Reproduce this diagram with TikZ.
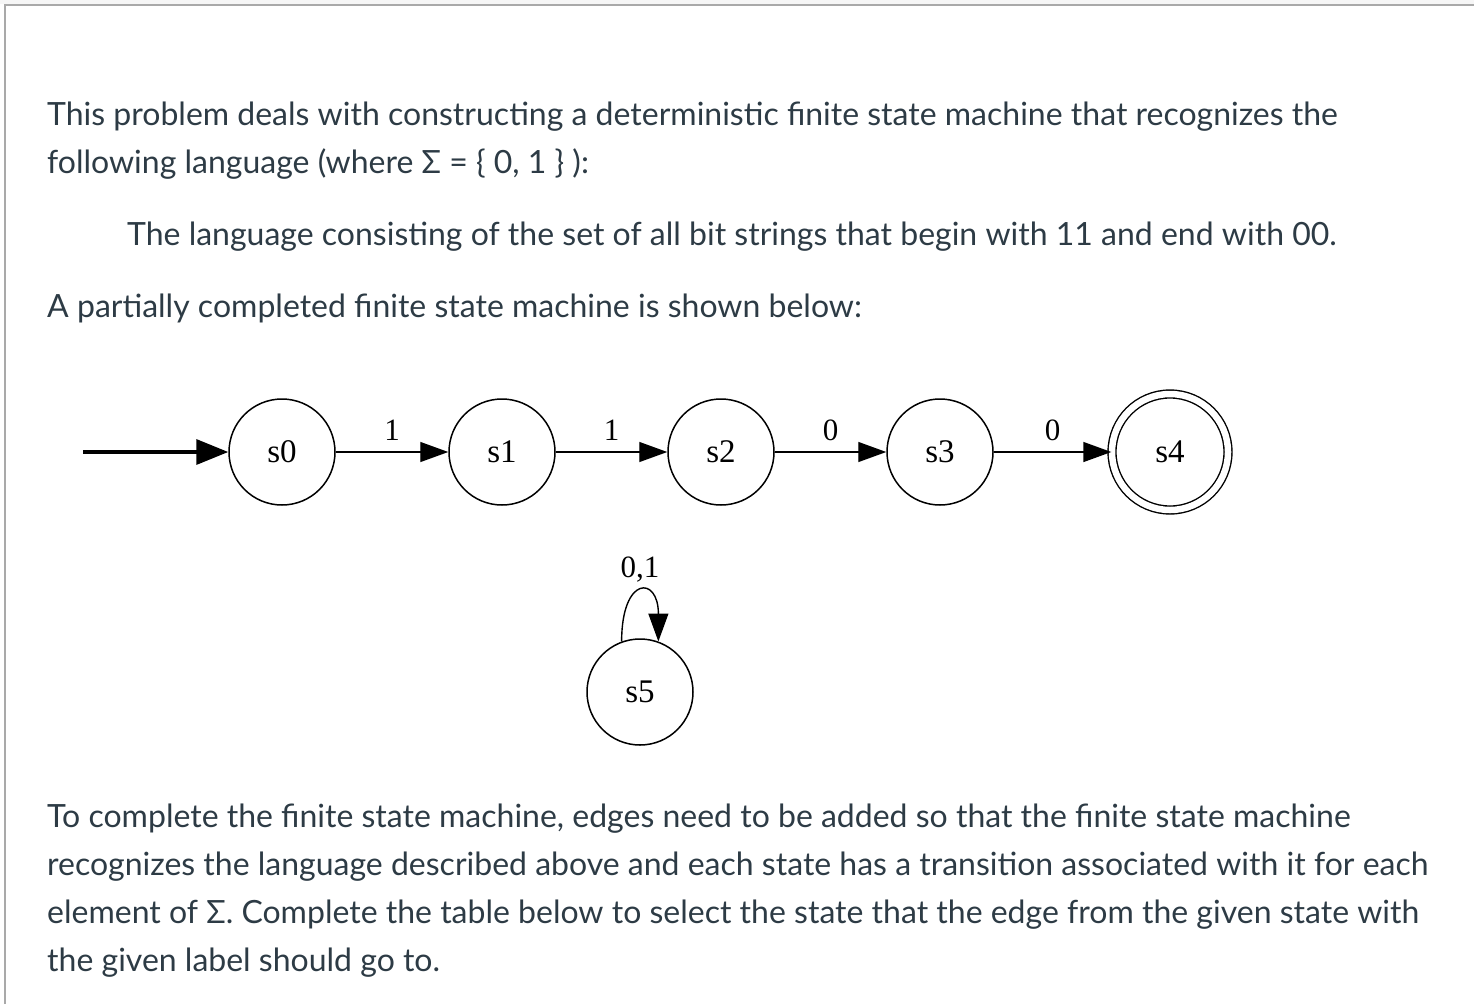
\documentclass[tikz,border=0pt]{standalone}
\usepackage{fontspec}
\setmainfont{Lato}
\newfontfamily\graphfont{Liberation Serif}
\usetikzlibrary{arrows.meta}
\definecolor{canvastext}{HTML}{2D3B45}
\definecolor{bordergray}{HTML}{A9A9A9}
\begin{document}
\begin{tikzpicture}[x=1pt,y=-1pt,
  para/.style={anchor=base west, inner sep=0pt, text=canvastext, font=\fontsize{32}{48}\selectfont},
  state/.style={circle, draw=black, line width=1.5pt, minimum size=106pt, inner sep=0pt, font=\graphfont\fontsize{33}{33}\selectfont},
  accept/.style={state, double=white, double distance=6.5pt, line width=1.4pt, minimum size=116pt},
  edge/.style={line width=1.4pt, -{Triangle[length=28pt,width=20pt]}},
  elabel/.style={font=\graphfont\fontsize{31}{31}\selectfont, inner sep=0pt}
]
\useasboundingbox (0,0) rectangle (1474,1004);
\fill[gray!7] (0,0) rectangle (1474,4);
\draw[bordergray, line width=2pt] (5,1004) -- (5,5) -- (1474,5);

\node[para] (l1) at (47,125) {This problem deals with constructing a deterministic finite state machine that recognizes the};
\node[para] (l2) at (47,173) {following language (where Σ = \{ 0, 1 \} ):};
\node[para] (l3) at (127,245) {The language consisting of the set of all bit strings that begin with 11 and end with 00.};
\node[para] (l4) at (47,317) {A partially completed finite state machine is shown below:};
\node[para] (l5) at (47,827) {To complete the finite state machine, edges need to be added so that the finite state machine};
\node[para] (l6) at (47,875) {recognizes the language described above and each state has a transition associated with it for each};
\node[para] (l7) at (47,923) {element of Σ. Complete the table below to select the state that the edge from the given state with};
\node[para] (l8) at (47,971) {the given label should go to.};

\node[state] (s0) at (282,452) {s0};
\node[state] (s1) at (502,452) {s1};
\node[state] (s2) at (721,452) {s2};
\node[state] (s3) at (940,452) {s3};
\node[accept] (s4) at (1170,452) {s4};
\node[state] (s5) at (640,692) {s5};

\coordinate (start) at (83,452);
\draw[line width=3.5pt, -{Triangle[length=32pt,width=25pt]}] (start) -- (s0);
\draw[edge] (s0) -- node[elabel, above=11pt, pos=0.5] (t1) {1} (s1);
\draw[edge] (s1) -- node[elabel, above=11pt, pos=0.5] (t2) {1} (s2);
\draw[edge] (s2) -- node[elabel, above=11pt, pos=0.5] (t3) {0} (s3);
\draw[edge] (s3) -- node[elabel, above=11pt, pos=0.5] (t4) {0} (s4);
\draw[edge] (s5.110) .. controls +(0,-66) and +(0,-66) .. (s5.70);
\node[elabel] (t5) at (640,570) {0,1};
\end{tikzpicture}
\end{document}
